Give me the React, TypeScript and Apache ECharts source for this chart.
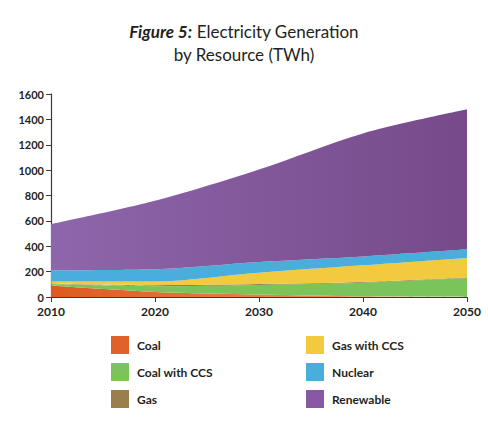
import React, { useEffect, useRef } from "react";
import * as echarts from "echarts";

const years = ["2010", "2020", "2030", "2040", "2050"];
const coal = [90, 40, 20, 5, 0];
const coalCCS = [12, 45, 75, 108, 150];
const gas = [5, 8, 7, 5, 3];
const gasCCS = [15, 30, 90, 132, 155];
const nuclear = [88, 95, 84, 70, 68];
const renewable = [364, 540, 729, 969, 1103];

const seriesNames = ["Coal", "Coal with CCS", "Gas", "Gas with CCS", "Nuclear", "Renewable"];
const seriesData = [coal, coalCCS, gas, gasCCS, nuclear, renewable];

const FONT = "Lato";
const TEXT = "#231f20";

export default function App() {
  const ref = useRef<HTMLDivElement>(null);
  useEffect(() => {
    if (!ref.current) return;
    const chart = echarts.init(ref.current, null, { renderer: "svg" });
    const lin = (a: string, b: string) =>
      new echarts.graphic.LinearGradient(0, 0, 1, 0, [
        { offset: 0, color: a },
        { offset: 1, color: b },
      ]);
    const colors: any[] = [
      lin("#dd5a20", "#f2a26a"),
      "#7bc45a",
      "#9a7f4c",
      "#f1cb3d",
      "#4aaedc",
      lin("#8e66ab", "#764a8a"),
    ];
    const legendColors = ["#e0622a", "#7bc45a", "#9a7f4c", "#f1cb3d", "#4aaedc", "#8858a4"];
    const legendText = { fontFamily: FONT, fontSize: 12, fontWeight: "bold", color: TEXT, padding: [0, 0, 0, 3] };
    chart.setOption({
      animation: false,
      title: [
        {
          text: "{b|Figure 5:} Electricity Generation",
          left: "center",
          top: 23,
          padding: 0,
          textStyle: {
            fontFamily: FONT,
            fontSize: 17,
            fontWeight: "normal",
            color: TEXT,
            rich: {
              b: { fontFamily: FONT, fontSize: 17, fontWeight: "bold", fontStyle: "italic", color: TEXT },
            },
          },
        },
        {
          text: "by Resource (TWh)",
          left: "center",
          top: 46,
          padding: 0,
          textStyle: { fontFamily: FONT, fontSize: 17, fontWeight: "normal", color: TEXT },
        },
      ],
      legend: [
        {
          data: seriesNames.slice(0, 3).map((n, i) => ({ name: n, itemStyle: { color: legendColors[i] } })),
          orient: "vertical",
          left: 111,
          top: 336,
          padding: 0,
          itemWidth: 18,
          itemHeight: 18,
          itemGap: 9,
          icon: "rect",
          selectedMode: false,
          textStyle: legendText,
        },
        {
          data: seriesNames.slice(3).map((n, i) => ({ name: n, itemStyle: { color: legendColors[i + 3] } })),
          orient: "vertical",
          left: 306,
          top: 336,
          padding: 0,
          itemWidth: 18,
          itemHeight: 18,
          itemGap: 9,
          icon: "rect",
          selectedMode: false,
          textStyle: legendText,
        },
      ],
      grid: { left: 51, right: 21, top: 94, bottom: 137 },
      xAxis: {
        type: "category",
        data: years,
        boundaryGap: false,
        axisLine: { lineStyle: { color: "#3a3a3a", width: 1.2 } },
        axisTick: { length: 5, lineStyle: { color: "#3a3a3a" } },
        axisLabel: { fontFamily: FONT, fontSize: 12, fontWeight: "bold", color: TEXT, margin: 8 },
        splitLine: { show: false },
      },
      yAxis: {
        type: "value",
        min: 0,
        max: 1600,
        interval: 200,
        axisLine: { show: true, lineStyle: { color: "#3a3a3a", width: 1.2 } },
        axisTick: { show: true, length: 5, lineStyle: { color: "#3a3a3a" } },
        axisLabel: {
          fontFamily: FONT,
          fontSize: 11,
          fontWeight: "bold",
          color: TEXT,
          margin: 7,
          formatter: (v: number) => String(v),
        },
        splitLine: { show: false },
      },
      series: seriesNames.map((n, i) => ({
        name: n,
        type: "line",
        stack: "total",
        data: seriesData[i],
        smooth: 0.3,
        symbol: "none",
        lineStyle: { width: 0 },
        areaStyle: { color: colors[i], opacity: 1 },
        itemStyle: { color: legendColors[i] },
        z: 2,
      })),
    });
    return () => chart.dispose();
  }, []);
  return (
    <div
      ref={ref}
      style={{ position: "fixed", left: 0, top: 0, width: 488, height: 434, background: "#ffffff" }}
    />
  );
}
